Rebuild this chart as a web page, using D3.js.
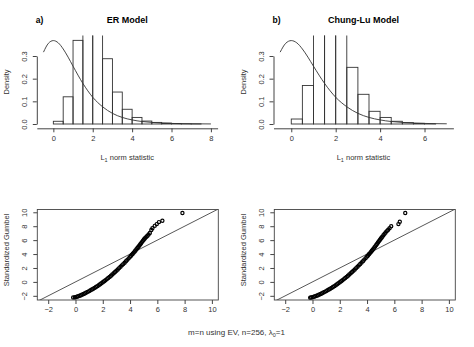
<!DOCTYPE html>
<html lang="en">
<head>
<meta charset="UTF-8">
<title>EV fit</title>
<script src="https://d3js.org/d3.v7.min.js"></script>
<style>
  body { margin: 0; background: #fff; }
  svg { display: block; font-family: Arial, "Liberation Sans", sans-serif; }
  .ax path, .ax line { stroke: #444; }
  .ax text { fill: #333; font-size: 7.5px; }
</style>
</head>
<body>
<svg id="chart" width="474" height="347"></svg>
<script>
// histogram breaks and densities
var breaksER = [-0.5, 0, 0.5, 1, 1.5, 2, 2.5, 3, 3.5, 4, 4.5, 5, 5.5, 6, 6.5, 7, 7.5, 8];
var densER = [0, 0.012, 0.12, 0.369, 0.47, 0.478, 0.288, 0.141, 0.065, 0.029, 0.013, 0.007, 0.004, 0.002, 0.001, 0.0005, 0];
var breaksCL = [-0.5, 0, 0.5, 1, 1.5, 2, 2.5, 3, 3.5, 4, 4.5, 5, 5.5, 6, 6.5, 7];
var densCL = [0, 0.022, 0.17, 0.42, 0.46, 0.44, 0.25, 0.131, 0.056, 0.029, 0.012, 0.006, 0.003, 0.001, 0];

// gumbel density curve
var curveX = [-0.5, -0.25, 0, 0.25, 0.5, 0.75, 1, 1.5, 2, 2.5, 3, 3.5, 4, 4.5, 5, 5.5, 6, 6.5, 7, 7.5, 8];
var curveY = [0.317, 0.356, 0.368, 0.358, 0.331, 0.295, 0.255, 0.179, 0.118, 0.076, 0.047, 0.029, 0.018, 0.011, 0.007, 0.004, 0.0025, 0.0015, 0.0009, 0.0006, 0.0003];

var histXTicksER = [0, 2, 4, 6, 8];
var histXTicksCL = [0, 2, 4, 6];
var histYTicks = [0, 0.1, 0.2, 0.3];
var qqTicks = [-2, 0, 2, 4, 6, 8, 10];

// qq points: observed statistic (x) vs standardized gumbel (y)
var qqxER = [-0.17, -0.05, 0, 0.1, 0.2, 0.3, 0.4, 0.5, 0.6, 0.7, 0.8, 0.9, 1.0, 1.1, 1.2, 1.3, 1.4, 1.5, 1.6, 1.7, 1.8, 1.9, 2.0,
  2.1, 2.2, 2.3, 2.4, 2.5, 2.6, 2.7, 2.8, 2.9, 3.0, 3.1, 3.2, 3.3, 3.4, 3.5, 3.6, 3.7, 3.8, 3.9, 4.0, 4.07, 4.14, 4.2, 4.27,
  4.34, 4.4, 4.47, 4.54, 4.6, 4.67, 4.74, 4.8, 4.87, 4.94, 5.0, 5.06, 5.12, 5.2, 5.28, 5.36, 5.45, 5.56, 5.64, 5.81, 5.96,
  6.12, 6.37, 7.84];
var qqyER = [-2.24, -2.22, -2.2, -2.14, -2.07, -1.99, -1.91, -1.82, -1.73, -1.63, -1.53, -1.43, -1.32, -1.21, -1.1, -0.98,
  -0.86, -0.74, -0.61, -0.48, -0.34, -0.2, -0.06, 0.09, 0.24, 0.4, 0.56, 0.72, 0.89, 1.06, 1.24, 1.42, 1.6, 1.79, 1.98,
  2.18, 2.38, 2.56, 2.76, 2.96, 3.17, 3.38, 3.6, 3.76, 3.92, 4.05, 4.21, 4.37, 4.51, 4.68, 4.86, 5.01, 5.2, 5.38, 5.53,
  5.72, 5.9, 6.05, 6.2, 6.33, 6.48, 6.64, 6.82, 7.02, 7.45, 7.71, 8.05, 8.3, 8.59, 8.78, 9.9];
var qqxCL = [-0.17, -0.1, 0, 0.1, 0.2, 0.3, 0.4, 0.5, 0.6, 0.7, 0.8, 0.9, 1.0, 1.1, 1.2, 1.3, 1.4, 1.5, 1.6, 1.7, 1.8, 1.9, 2.0,
  2.1, 2.2, 2.3, 2.4, 2.5, 2.6, 2.7, 2.8, 2.9, 3.0, 3.1, 3.2, 3.3, 3.4, 3.5, 3.6, 3.7, 3.8, 3.9, 4.0, 4.07, 4.14, 4.2, 4.27,
  4.34, 4.4, 4.47, 4.54, 4.6, 4.67, 4.74, 4.8, 4.87, 4.94, 5.0, 5.06, 5.12, 5.2, 5.28, 5.36, 5.45, 5.55, 5.65, 5.77,
  6.3, 6.4, 6.8];
var qqyCL = [-2.28, -2.25, -2.2, -2.14, -2.07, -1.99, -1.91, -1.82, -1.73, -1.63, -1.53, -1.43, -1.32, -1.21, -1.1, -0.98,
  -0.86, -0.74, -0.61, -0.48, -0.34, -0.2, -0.06, 0.09, 0.24, 0.4, 0.56, 0.72, 0.89, 1.06, 1.24, 1.42, 1.6, 1.79, 1.98,
  2.18, 2.38, 2.58, 2.78, 2.98, 3.2, 3.42, 3.64, 3.8, 3.97, 4.1, 4.27, 4.44, 4.59, 4.77, 4.95, 5.11, 5.3, 5.49, 5.65,
  5.85, 6.03, 6.2, 6.35, 6.5, 6.7, 6.9, 7.1, 7.3, 7.5, 7.72, 8.0, 8.3, 8.65, 9.9];

var svg = d3.select("#chart");

function sub(text, main, s, rest) {
  text.append("tspan").text(main);
  text.append("tspan").attr("font-size", "5.5px").attr("dy", 2).text(s);
  text.append("tspan").attr("dy", -2).text(rest);
}

function drawHist(id, breaks, dens, xdom, xr, xticks, tag, title, curveN) {
  var x = d3.scaleLinear().domain(xdom).range(xr);
  var y = d3.scaleLinear().domain([0, 0.3]).range([124, 56]);
  var g = svg.append("g");

  svg.append("clipPath").attr("id", id)
    .append("rect").attr("x", xr[0]).attr("y", 35.5)
    .attr("width", xr[1] - xr[0]).attr("height", 128.3 - 35.5);

  var bins = dens.map(function (d, i) { return { x0: breaks[i], x1: breaks[i + 1], d: d }; });
  g.append("g").attr("clip-path", "url(#" + id + ")")
    .selectAll("rect").data(bins).enter().append("rect")
    .attr("x", function (b) { return x(b.x0); })
    .attr("y", function (b) { return y(b.d); })
    .attr("width", function (b) { return x(b.x1) - x(b.x0); })
    .attr("height", function (b) { return y(0) - y(b.d); })
    .attr("fill", "none").attr("stroke", "#333").attr("stroke-width", 0.9);

  var pts = curveX.slice(0, curveN).map(function (v, i) { return [v, curveY[i]]; });
  g.append("path").datum(pts)
    .attr("d", d3.line().x(function (p) { return x(p[0]); }).y(function (p) { return y(p[1]); })
      .curve(d3.curveMonotoneX))
    .attr("fill", "none").attr("stroke", "#333").attr("stroke-width", 0.9);

  g.append("g").attr("class", "ax").attr("transform", "translate(0,128.3)")
    .call(d3.axisBottom(x).tickValues(xticks).tickSize(4).tickPadding(3).tickSizeOuter(0));
  var ya = g.append("g").attr("class", "ax").attr("transform", "translate(" + xr[0] + ",0)")
    .call(d3.axisLeft(y).tickValues(histYTicks).tickFormat(d3.format(".1f")).tickSize(4).tickSizeOuter(0));
  ya.selectAll("text").attr("transform", "rotate(-90)").attr("x", 0).attr("y", -10)
    .attr("text-anchor", "middle").attr("dy", 0);

  var cx = (xr[0] + xr[1]) / 2;
  g.append("text").attr("x", cx).attr("y", 23).attr("text-anchor", "middle")
    .attr("font-size", "9px").attr("font-weight", "bold").text(title);
  g.append("text").attr("x", xr[0] - 1).attr("y", 23)
    .attr("font-size", "8.5px").attr("font-weight", "bold").text(tag);
  g.append("text").attr("transform", "translate(" + (xr[0] - 28) + ",82) rotate(-90)")
    .attr("text-anchor", "middle").attr("font-size", "7.5px").attr("fill", "#333").text("Density");
  var xl = g.append("text").attr("x", cx).attr("y", 160).attr("text-anchor", "middle")
    .attr("font-size", "7.5px").attr("fill", "#333");
  sub(xl, "L", "1", " norm statistic");
}

function drawQQ(id, qx, qy, xr) {
  var x = d3.scaleLinear().domain([-2.8, 10.47]).range(xr);
  var y = d3.scaleLinear().domain([-2.6, 10.4]).range([300, 209.5]);
  var g = svg.append("g");

  svg.append("clipPath").attr("id", id)
    .append("rect").attr("x", xr[0]).attr("y", 209.5)
    .attr("width", xr[1] - xr[0]).attr("height", 90.5);

  g.append("line").attr("clip-path", "url(#" + id + ")")
    .attr("x1", x(-3)).attr("y1", y(-3)).attr("x2", x(11)).attr("y2", y(11))
    .attr("stroke", "#444").attr("stroke-width", 0.9);

  g.append("g").selectAll("circle").data(qx).enter().append("circle")
    .attr("cx", function (d) { return x(d); })
    .attr("cy", function (d, i) { return y(qy[i]); })
    .attr("r", 1.6).attr("fill", "none").attr("stroke", "#000").attr("stroke-width", 1.2);

  g.append("rect").attr("x", xr[0]).attr("y", 209.5)
    .attr("width", xr[1] - xr[0]).attr("height", 90.5)
    .attr("fill", "none").attr("stroke", "#444").attr("stroke-width", 0.9);

  g.append("g").attr("class", "ax").attr("transform", "translate(0,300)")
    .call(d3.axisBottom(x).tickValues(qqTicks).tickSize(4).tickPadding(3).tickSizeOuter(0))
    .select(".domain").remove();
  var ya = g.append("g").attr("class", "ax").attr("transform", "translate(" + xr[0] + ",0)")
    .call(d3.axisLeft(y).tickValues(qqTicks).tickSize(4).tickSizeOuter(0));
  ya.select(".domain").remove();
  ya.selectAll("text").attr("transform", "rotate(-90)").attr("x", 0).attr("y", -10)
    .attr("text-anchor", "middle").attr("dy", 0);

  g.append("text").attr("transform", "translate(" + (xr[0] - 28) + ",250) rotate(-90)")
    .attr("text-anchor", "middle").attr("font-size", "7.5px").attr("fill", "#333").text("Standardized Gumbel");
}

drawHist("clipA", breaksER, densER, [-0.84, 8.34], [36.8, 217.6], histXTicksER, "a)", "ER Model", 21);
drawHist("clipB", breaksCL, densCL, [-0.8, 7.3], [273.5, 453.4], histXTicksCL, "b)", "Chung-Lu Model", 19);
drawQQ("clipC", qqxER, qqyER, [37.3, 218.3]);
drawQQ("clipD", qqxCL, qqyCL, [274.3, 455.3]);

var cap = svg.append("text").attr("x", 236.5).attr("y", 335).attr("text-anchor", "middle")
  .attr("font-size", "8px").attr("fill", "#333");
sub(cap, "m=n using EV, n=256, \u03bb", "0", "=1");
</script>
</body>
</html>
